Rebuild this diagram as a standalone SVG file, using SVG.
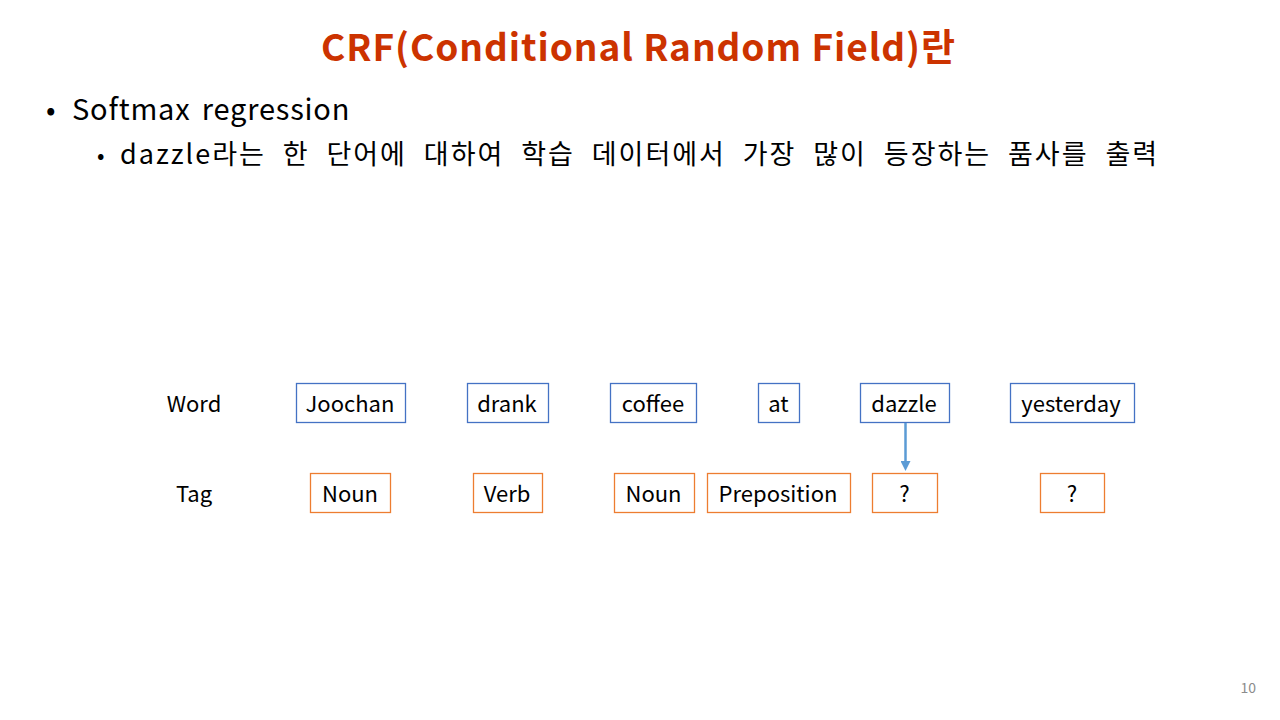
<svg xmlns="http://www.w3.org/2000/svg" width="1280" height="720" viewBox="0 0 1280 720">
<style>
text{font-family:"Noto Sans CJK KR","Noto Sans",sans-serif;fill:#000}
.w{fill:#fff;stroke:#4472C4;stroke-width:1.3}
.t{fill:#fff;stroke:#ED7D31;stroke-width:1.3}
.bx{font-size:22px;text-anchor:middle}
.lb{font-size:22px;text-anchor:middle}
</style>
<defs>
<marker id="ah" markerWidth="4" markerHeight="4" refX="2" refY="2" orient="auto" markerUnits="strokeWidth">
<path d="M0,0 L4,2 L0,4 Z" fill="#5B9BD5"/>
</marker>
</defs>
<rect width="1280" height="720" fill="#fff"/>
<g id="title"><text x="321" y="61" textLength="634" lengthAdjust="spacing" style="font-size:37px;font-weight:bold;fill:#CC3300">CRF(Conditional Random Field)란</text></g>
<g id="bullets">
<text x="46" y="120" style="font-size:28px">•</text>
<text x="72" y="120" style="font-size:29px;word-spacing:4px;letter-spacing:0.8px">Softmax regression</text>
<text x="97" y="163" style="font-size:22px">•</text>
<text x="120" y="164" style="font-size:27px;word-spacing:8.8px;letter-spacing:2px">dazzle라는 한 단어에 대하여 학습 데이터에서 가장 많이 등장하는 품사를 출력</text>
</g>
<g id="labels">
<text class="lb" x="194" y="412">Word</text>
<text class="lb" x="194" y="502">Tag</text>
</g>
<g id="w-joochan"><rect class="w" x="296.5" y="383.5" width="109" height="39"/><text class="bx" x="350" y="412">Joochan</text></g>
<g id="w-drank"><rect class="w" x="467.5" y="383.5" width="81" height="39"/><text class="bx" x="507" y="412">drank</text></g>
<g id="w-coffee"><rect class="w" x="610.5" y="383.5" width="86" height="39"/><text class="bx" x="653" y="412">coffee</text></g>
<g id="w-at"><rect class="w" x="758.5" y="383.5" width="41" height="39"/><text class="bx" x="778.5" y="412">at</text></g>
<g id="w-dazzle"><rect class="w" x="860.5" y="383.5" width="89" height="39"/><text class="bx" x="904" y="412">dazzle</text></g>
<g id="w-yesterday"><rect class="w" x="1010.5" y="383.5" width="124" height="39"/><text class="bx" x="1071" y="412">yesterday</text></g>
<g id="t-noun1"><rect class="t" x="310.5" y="473.5" width="80" height="39"/><text class="bx" x="350" y="502">Noun</text></g>
<g id="t-verb"><rect class="t" x="473.5" y="473.5" width="69" height="39"/><text class="bx" x="507" y="502">Verb</text></g>
<g id="t-noun2"><rect class="t" x="614.5" y="473.5" width="80" height="39"/><text class="bx" x="653.5" y="502">Noun</text></g>
<g id="t-prep"><rect class="t" x="707.5" y="473.5" width="143" height="39"/><text class="bx" x="778" y="502">Preposition</text></g>
<g id="t-q1"><rect class="t" x="872.5" y="473.5" width="65" height="39"/><text class="bx" x="904.5" y="502">?</text></g>
<g id="t-q2"><rect class="t" x="1040.5" y="473.5" width="64" height="39"/><text class="bx" x="1072" y="502">?</text></g>
<g id="connectors">
<line x1="905.5" y1="423" x2="905.5" y2="466" stroke="#5B9BD5" stroke-width="2.5" marker-end="url(#ah)"/>
</g>
<g id="page"><text x="1256" y="693" style="font-size:14px;fill:#8c8c8c;text-anchor:end">10</text></g>
</svg>
